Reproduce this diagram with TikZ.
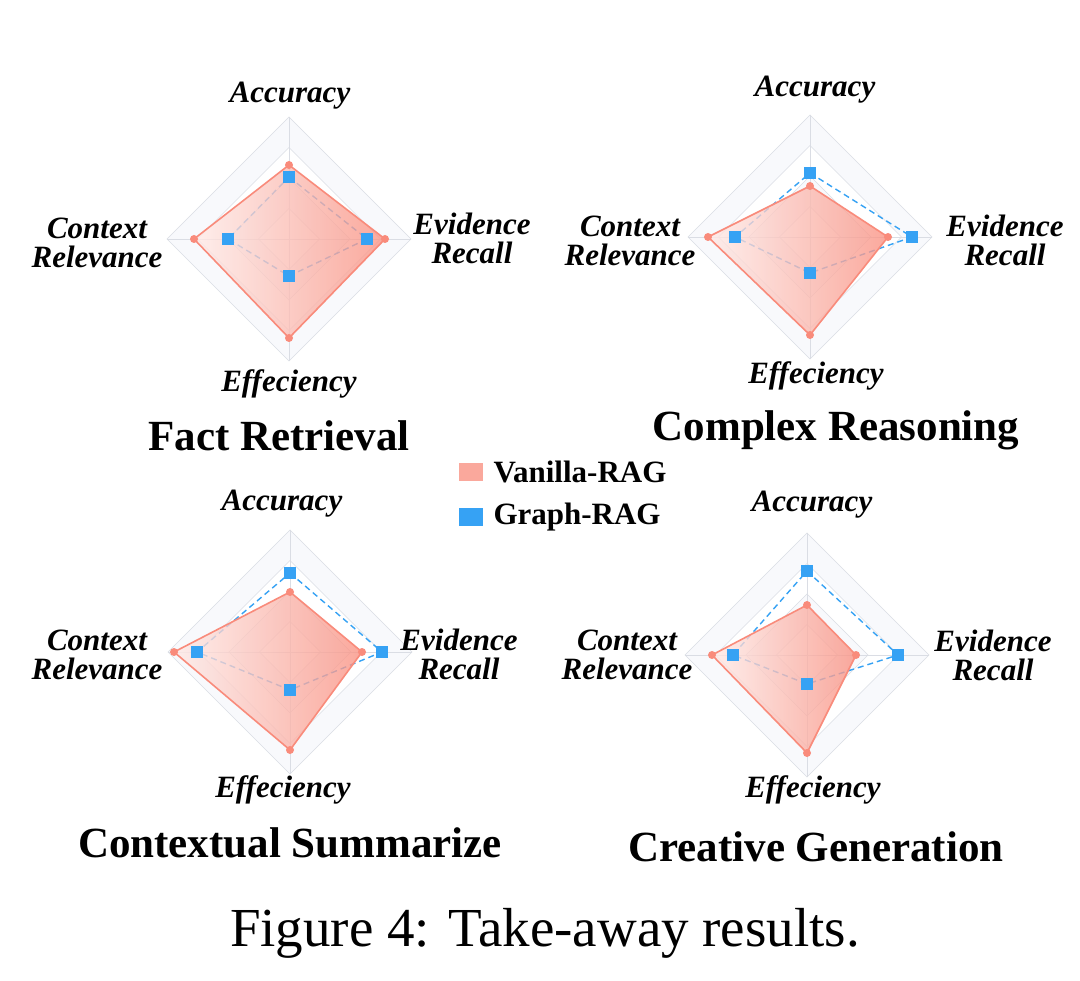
\documentclass[tikz,border=0pt]{standalone}
\usepackage{fontspec}
\setmainfont{Liberation Serif}
\begin{document}
\definecolor{van}{HTML}{F98B7B}
\definecolor{gr}{HTML}{36A2F4}
\definecolor{gridc}{HTML}{DADDE4}
\definecolor{band}{HTML}{F8F9FC}
\tikzset{
  lab/.style={font=\fontsize{31}{29}\selectfont\bfseries\itshape, align=center},
  ttl/.style={font=\fontsize{43}{44}\selectfont\bfseries},
  vline/.style={draw=van, line width=1.6pt, line join=round},
  gline/.style={draw=gr, line width=1.4pt, dash pattern=on 6pt off 4pt},
  vdot/.style={circle, fill=van, inner sep=0pt, minimum size=8pt},
  gsq/.style={rectangle, fill=gr, inner sep=0pt, minimum size=12pt},
}
\newcommand\myradar[8]{%
  \fill[band] (0,-122)--(122,0)--(0,122)--(-122,0)--cycle;
  \fill[white] (0,-91.5)--(91.5,0)--(0,91.5)--(-91.5,0)--cycle;
  \fill[band] (0,-61)--(61,0)--(0,61)--(-61,0)--cycle;
  \fill[white] (0,-30.5)--(30.5,0)--(0,30.5)--(-30.5,0)--cycle;
  \foreach \r in {30.5,61,91.5,122}{\draw[gridc, line width=0.6pt] (0,-\r)--(\r,0)--(0,\r)--(-\r,0)--cycle;}
  \draw[gridc, line width=0.9pt] (0,-122)--(0,122) (-122,0)--(122,0);
  \draw[gline] (0,-#5)--(#6,0)--(0,#8)--(-#7,0)--cycle;
  \shade[left color=van!18, right color=van!95, opacity=0.78] (0,-#1)--(#2,0)--(0,#4)--(-#3,0)--cycle;
  \draw[vline] (0,-#1)--(#2,0)--(0,#4)--(-#3,0)--cycle;
  \node[vdot] at (0,-#1) {}; \node[vdot] at (#2,0) {}; \node[vdot] at (0,#4) {}; \node[vdot] at (-#3,0) {};
  \node[gsq] at (0,-#5) {}; \node[gsq] at (#6,0) {}; \node[gsq] at (0,#8) {}; \node[gsq] at (-#7,0) {};
}
\begin{tikzpicture}[x=1pt,y=-1pt]
\useasboundingbox (0,0) rectangle (1080,981);
\fill[white] (0,0) rectangle (1080,981);
% chart 1
\begin{scope}[shift={(289,239)}]\myradar{74}{96}{95}{99}{62}{78}{61}{37}\end{scope}
\node[lab] (a1) at (290,96) {Accuracy};
\node[lab] (e1) at (472,238) {Evidence\\Recall};
\node[lab] (c1) at (97,243) {Context\\Relevance};
\node[lab] (f1) at (289,384) {Effeciency};
\node[ttl] (t1) at (279,436) {Fact Retrieval};
% chart 2
\begin{scope}[shift={(810,237)}]\myradar{51}{78}{102}{98}{64}{102}{75}{36}\end{scope}
\node[lab] (a2) at (815,90) {Accuracy};
\node[lab] (e2) at (1005,240) {Evidence\\Recall};
\node[lab] (c2) at (630,241) {Context\\Relevance};
\node[lab] (f2) at (816,376) {Effeciency};
\node[ttl] (t2) at (836,430) {Complex Reasoning};
% chart 3
\begin{scope}[shift={(290,652)}]\myradar{60}{72}{116}{98}{79}{92}{93}{38}\end{scope}
\node[lab] (a3) at (282,504) {Accuracy};
\node[lab] (e3) at (459,654) {Evidence\\Recall};
\node[lab] (c3) at (97,655) {Context\\Relevance};
\node[lab] (f3) at (283,790) {Effeciency};
\node[ttl] (t3) at (290,843) {Contextual Summarize};
% chart 4
\begin{scope}[shift={(807,655)}]\myradar{50}{49}{95}{98}{84}{91}{74}{29}\end{scope}
\node[lab] (a4) at (812,505) {Accuracy};
\node[lab] (e4) at (993,655) {Evidence\\Recall};
\node[lab] (c4) at (627,655) {Context\\Relevance};
\node[lab] (f4) at (813,790) {Effeciency};
\node[ttl] (t4) at (816,847) {Creative Generation};
% legend
\node[rectangle, fill=van!75, minimum width=24pt, minimum height=18pt, inner sep=0pt] (l1) at (471,472) {};
\node[anchor=west, font=\fontsize{31}{31}\selectfont\bfseries] (lt1) at (490,472) {Vanilla-RAG};
\node[rectangle, fill=gr, minimum width=24pt, minimum height=18pt, inner sep=0pt] (l2) at (471,517) {};
\node[anchor=west, font=\fontsize{31}{31}\selectfont\bfseries] (lt2) at (490,517) {Graph-RAG};
% caption
\node[font=\fontsize{55}{55}\selectfont] (cap) at (545,933) {Figure 4: Take-away results.};
\end{tikzpicture}
\end{document}
